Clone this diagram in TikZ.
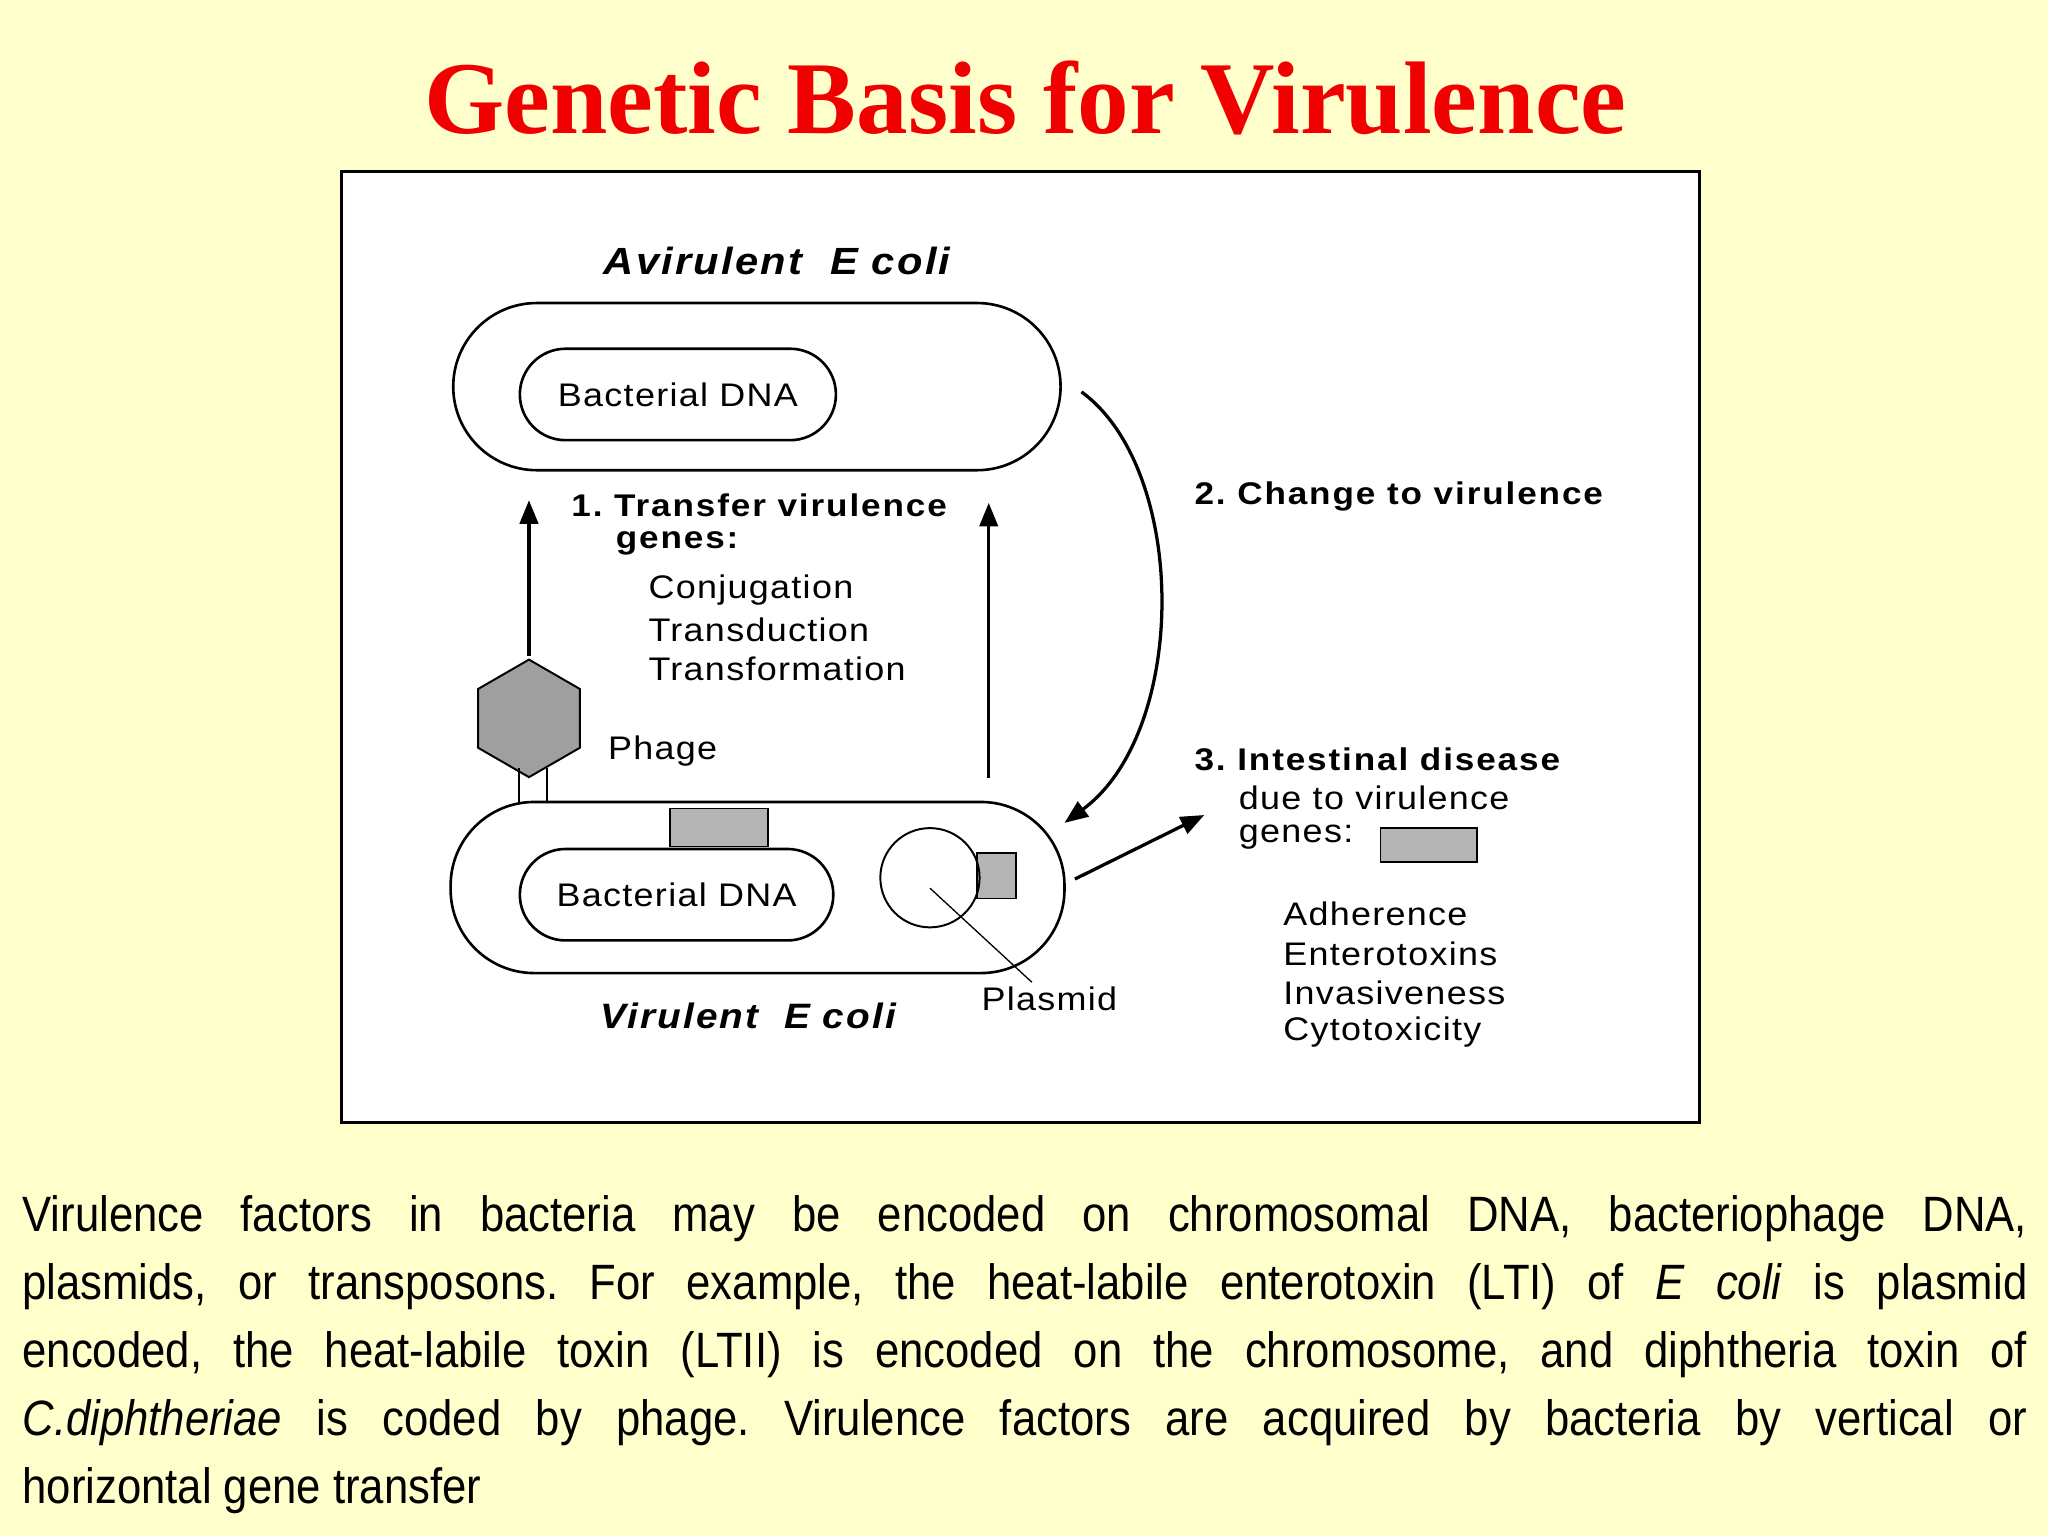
\documentclass[tikz,border=0pt]{standalone}
\usepackage{fontspec}
\setmainfont{Liberation Sans}
\newfontfamily\serifT{Liberation Serif}
\usetikzlibrary{shapes.geometric,arrows.meta}
\definecolor{bg}{HTML}{FFFFCC}
\definecolor{ttl}{HTML}{F00000}
\definecolor{gen}{HTML}{B4B4B4}
\begin{document}
\frenchspacing
\begin{tikzpicture}[x=1pt,y=-1pt,
  cell/.style={draw,line width=2pt,rounded corners=64pt},
  dna/.style={draw,line width=2pt,rounded corners=35pt,font=\fontsize{25}{28}\selectfont\addfontfeatures{LetterSpace=4,FakeStretch=1.1}},
  lab/.style={anchor=west,font=\fontsize{25}{28}\selectfont\addfontfeatures{LetterSpace=4,FakeStretch=1.1}},
  blab/.style={anchor=west,font=\fontsize{24}{27}\selectfont\bfseries\addfontfeatures{LetterSpace=6,FakeStretch=1.12}},
  gene/.style={draw,line width=1.2pt,fill=gen},
  arr/.style={line width=2.5pt,-{Triangle[length=18pt,width=14pt]}}]
\fill[bg] (0,0) rectangle (1568,1176);
\useasboundingbox (0,0) rectangle (1568,1176);
\node[font=\serifT\fontsize{79}{84}\selectfont\bfseries,text=ttl] (title) at (785,75) {Genetic Basis for Virulence};
\node[draw,line width=2.5pt,fill=white,minimum width=1040pt,minimum height=728pt,anchor=north west] (box) at (260,130) {};
\node[font=\fontsize{29}{32}\selectfont\bfseries\itshape\addfontfeatures{LetterSpace=6,FakeStretch=1.1}] (av) at (595,200) {Avirulent\ \ E coli};
\draw[cell] (347,232) rectangle (812,360);
\node[dna,minimum width=242pt,minimum height=70pt] (dna1) at (519,302) {Bacterial DNA};
\coordinate (a1s) at (405,502); \coordinate (a1e) at (405,383);
\draw[arr] (a1s) -- (a1e);
\coordinate (a2s) at (757,596); \coordinate (a2e) at (757,385);
\draw[arr] (a2s) -- (a2e);
\node[blab] (t1) at (434,387) {1. Transfer virulence};
\node[blab] (t1b) at (468,416) {genes:};
\node[lab] (c1) at (493,452) {Conjugation};
\node[lab] (c2) at (493,482) {Transduction};
\node[lab] (c3) at (493,512) {Transformation};
\coordinate (cs) at (828,300); \coordinate (ce) at (815,630);
\draw[arr] (cs) .. controls (910,360) and (910,560) .. (ce);
\node[blab] (t2) at (911,380) {2. Change to virulence};
\node[regular polygon,regular polygon sides=6,rotate=30,draw,line width=1.5pt,fill=gray!75,minimum size=90pt,inner sep=0pt] (ph) at (405,550) {};
\draw[line width=1.5pt] (397,588) -- (397,624) (419,588) -- (419,624);
\node[lab] (phl) at (462,575) {Phage};
\draw[cell,fill=white] (345,614) rectangle (815,745);
\node[dna,minimum width=240pt,minimum height=70pt] (dna2) at (518,685) {Bacterial DNA};
\draw[gene] (513,619) rectangle (588,648);
\draw[gene] (748,653) rectangle (778,688);
\node[circle,draw,line width=1.5pt,minimum size=76pt] (pl) at (712,672) {};
\coordinate (plp) at (712,680);
\node[lab] (pll) at (748,765) {Plasmid};
\draw[line width=1pt] (plp) -- (790,752);
\node[font=\fontsize{27}{30}\selectfont\bfseries\itshape\addfontfeatures{LetterSpace=6,FakeStretch=1.1}] (vir) at (573,778) {Virulent\ \ E coli};
\coordinate (a3s) at (823,673); \coordinate (a3e) at (922,624);
\draw[arr] (a3s) -- (a3e);
\node[blab] (t3) at (911,581) {3. Intestinal disease};
\node[lab] (t3b) at (945,611) {due to virulence};
\node[lab] (t3c) at (945,641) {genes:};
\draw[gene] (1057,634) rectangle (1131,660);
\node[lab] (d1) at (979,700) {Adherence};
\node[lab] (d2) at (979,730) {Enterotoxins};
\node[lab] (d3) at (979,760) {Invasiveness};
\node[lab] (d4) at (979,790) {Cytotoxicity};
\node[anchor=north west,text width=1535pt,align=justify,inner sep=0pt,font=\fontsize{38}{52}\selectfont] (para) at (17,915) {\addfontfeatures{FakeStretch=0.88}Virulence factors in bacteria may be encoded on chromosomal DNA, bacteriophage DNA,\linebreak plasmids, or transposons. For example, the heat-labile enterotoxin (LTI) of \textit{E coli} is plasmid\linebreak encoded, the heat-labile toxin (LTII) is encoded on the chromosome, and diphtheria toxin of\linebreak \textit{C.diphtheriae} is coded by phage. Virulence factors are acquired by bacteria by vertical or\linebreak horizontal gene transfer\par};
\end{tikzpicture}
\end{document}
